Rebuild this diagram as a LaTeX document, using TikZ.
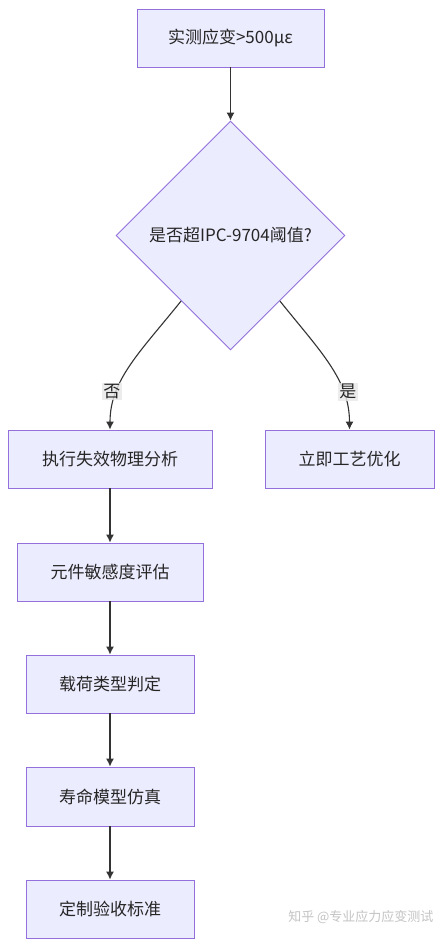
\documentclass[tikz,border=0pt]{standalone}
\usepackage{fontspec}
\setmainfont{Noto Sans CJK SC}
\usetikzlibrary{shapes.geometric,arrows.meta,calc}
\definecolor{boxfill}{HTML}{ECECFF}
\definecolor{boxline}{HTML}{9370DB}
\definecolor{arrowc}{HTML}{333333}
\definecolor{lblbg}{HTML}{E8E8E8}
\definecolor{wm}{HTML}{C4C4C4}
\tikzset{
  procbox/.style={draw=boxline, fill=boxfill, line width=0.9pt, rectangle, inner sep=0pt, font=\fontsize{17}{20}\selectfont, text=black!85},
  decision/.style={draw=boxline, fill=boxfill, line width=0.9pt, diamond, aspect=1, inner sep=0pt, minimum width=229pt, minimum height=229pt, font=\fontsize{17}{20}\selectfont, text=black!85},
  arr/.style={draw=arrowc, line width=1.1pt, -{Latex[length=8pt,width=8pt]}},
  lbl/.style={fill=lblbg, fill opacity=0.8, text opacity=1, inner sep=1.5pt, font=\fontsize{17}{20}\selectfont, text=black!85},
}
\begin{document}
\begin{tikzpicture}[x=1pt,y=-1pt]
\useasboundingbox (0,0) rectangle (443,947);
\fill[white] (0,0) rectangle (443,947);
\node[procbox, minimum width=187pt, minimum height=58pt] (start) at (230.5,38) {实测应变>500με};
\node[decision] (dec) at (230.5,235.5) {是否超IPC-9704阈值?};
\node[procbox, minimum width=204pt, minimum height=58pt] (no) at (110,459) {执行失效物理分析};
\node[procbox, minimum width=169pt, minimum height=58pt] (yes) at (349.5,459) {立即工艺优化};
\node[procbox, minimum width=186pt, minimum height=58pt] (b3) at (110,572) {元件敏感度评估};
\node[procbox, minimum width=168pt, minimum height=58pt] (b4) at (110,684) {载荷类型判定};
\node[procbox, minimum width=168pt, minimum height=59pt] (b5) at (110,796.5) {寿命模型仿真};
\node[procbox, minimum width=168pt, minimum height=58pt] (b6) at (110,909) {定制验收标准};
\coordinate (dl) at ($(dec.west)!0.57!(dec.south)$);
\coordinate (dr) at ($(dec.east)!0.57!(dec.south)$);
\draw[arr] (start) -- (dec);
\draw[arr] (dl) .. controls ($(dl)+(-40,50)$) and ($(no.north)+(0,-50)$) .. (no.north) node[lbl, pos=0.72, xshift=-5pt] {否};
\draw[arr] (dr) .. controls ($(dr)+(40,50)$) and ($(yes.north)+(0,-50)$) .. (yes.north) node[lbl, pos=0.72, xshift=5pt] {是};
\draw[arr] (no) -- (b3);
\draw[arr] (b3) -- (b4);
\draw[arr] (b4) -- (b5);
\draw[arr] (b5) -- (b6);
\node[font=\fontsize{13}{15}\selectfont, text=wm, anchor=east] (wmk) at (437,917) {知乎 @专业应力应变测试};
\end{tikzpicture}
\end{document}
